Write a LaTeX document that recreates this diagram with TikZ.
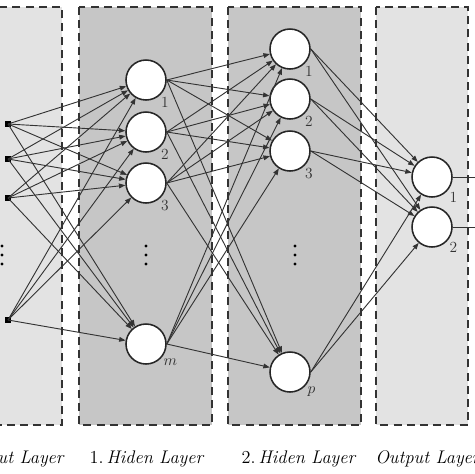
\documentclass[tikz,border=0pt]{standalone}
\usetikzlibrary{arrows.meta}
\begin{document}
\begin{tikzpicture}[x=0.25mm,y=-0.25mm,
		neuron/.style={circle,draw=black!85,line width=1.1pt,fill=white,minimum size=10mm,inner sep=0pt},
		inp/.style={rectangle,fill=black,minimum size=1.5mm,inner sep=0pt},
		panel/.style={draw=black!80,line width=1pt,dash pattern=on 2mm off 1.3mm},
		conn/.style={draw=black!80,line width=0.65pt,-{Triangle[length=1.6mm,width=1.2mm]}},
		lab/.style={font=\fontsize{11}{13}\selectfont,inner sep=1pt,text=black!80},
		layer/.style={font=\fontsize{13}{15}\selectfont,inner sep=0pt}]
	\useasboundingbox (0,0) rectangle (474,474);
	\fill[white] (0,0) rectangle (474,474);
	% layer panels
	\draw[panel,fill=gray!22] (-90,7) rectangle (62,425);
	\draw[panel,fill=gray!45] (79,7) rectangle (212,425);
	\draw[panel,fill=gray!45] (228,7) rectangle (361,425);
	\draw[panel,fill=gray!22] (376,7) rectangle (468,425);
	% input
	\node[inp] (x1) at (8,124) {};
	\node[inp] (x2) at (8,159) {};
	\node[inp] (x3) at (8,198) {};
	\node[inp] (x4) at (8,320) {};
	% 1. hidden
	\node[neuron,label={[lab]-50:1}] (a1) at (146,80) {};
	\node[neuron,label={[lab]-50:2}] (a2) at (146,132) {};
	\node[neuron,label={[lab]-50:3}] (a3) at (146,183) {};
	\node[neuron,label={[lab]-40:$m$}] (a4) at (146,344) {};
	% 2. hidden
	\node[neuron,label={[lab]-50:1}] (b1) at (290,49) {};
	\node[neuron,label={[lab]-50:2}] (b2) at (290,99) {};
	\node[neuron,label={[lab]-50:3}] (b3) at (290,151) {};
	\node[neuron,label={[lab]-40:$p$}] (b4) at (290,372) {};
	% output
	\node[neuron,label={[lab]-40:1}] (o1) at (432,177) {};
	\node[neuron,label={[lab]-40:2}] (o2) at (432,227) {};
	\coordinate (y1) at (480,177);
	\coordinate (y2) at (480,227);
	% dots
	\foreach \px in {2,146,295}
		\foreach \py in {246,255,264}
			\fill[black] (\px,\py) circle (0.4mm);
	% connections
	\foreach \i in {1,...,4}
		\foreach \j in {1,...,4}
			\draw[conn] (x\i.center) -- (a\j);
	\foreach \i in {1,...,4}
		\foreach \j in {1,...,4}
			\draw[conn] (a\i.east) -- (b\j);
	\foreach \i in {1,...,4}
		\foreach \j in {1,2}
			\draw[conn] (b\i.east) -- (o\j);
	\draw[draw=black!80,line width=0.65pt] (o1.east) -- (y1);
	\draw[draw=black!80,line width=0.65pt] (o2.east) -- (y2);
	% layer names
	\node[layer,anchor=east] (l1) at (65,459) {\textit{Input Layer}};
	\node[layer] (l2) at (147,459) {1.\,\textit{Hiden Layer}};
	\node[layer] (l3) at (299,459) {2.\,\textit{Hiden Layer}};
	\node[layer,anchor=west] (l4) at (375,459) {\textit{Output Layer}};
\end{tikzpicture}
\end{document}
